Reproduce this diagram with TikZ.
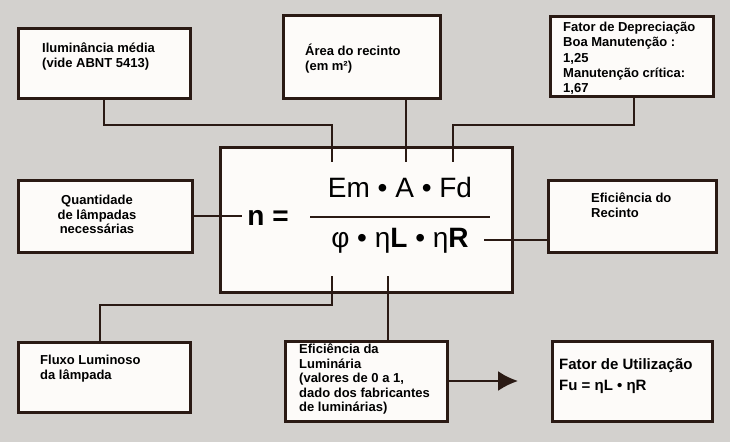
\documentclass[tikz,border=0pt]{standalone}
\usepackage{fontspec}
\usetikzlibrary{arrows.meta}
\setmainfont{Liberation Sans}
\definecolor{bg}{HTML}{D3D1CE}
\definecolor{ln}{HTML}{2A1A14}
\definecolor{bx}{HTML}{FDFBF9}
\begin{document}
\begin{tikzpicture}[x=1pt,y=-1pt,
 box/.style={draw=ln,line width=3pt,fill=bx},
 con/.style={draw=ln,line width=2.2pt},
 lbl/.style={font=\bfseries\fontsize{13}{14.5}\selectfont,align=left,anchor=north west,inner sep=0pt},
 eq/.style={font=\fontsize{28}{30}\selectfont,inner sep=0pt}]
\fill[bg] (0,0) rectangle (730,442);
\useasboundingbox (0,0) rectangle (730,442);
% boxes
\draw[box] (220,147) rectangle (512,292);
\draw[box] (18,28) rectangle (190,98);
\draw[box] (283,15) rectangle (440,98);
\draw[box] (550,16) rectangle (713,96);
\draw[box] (18,180) rectangle (192,252);
\draw[box] (548,180) rectangle (716,252);
\draw[box] (18,342) rectangle (190,412);
\draw[box] (285,341) rectangle (447,421);
\draw[box] (552,341) rectangle (712,421);
% formula
\node[eq] (n) at (268,218) {\bfseries n =};
\node[eq] (num) at (400,187) {Em • A • Fd};
\node[eq] (den) at (400,241) {φ • η\textbf{L} • η\textbf{R}};
\draw[ln,line width=2.2pt] (310,217) -- (490,217);
% labels
\node[lbl] (t1) at (42,43) {Iluminância média\\(vide ABNT 5413)};
\node[lbl] (t2) at (305,44) {Área do recinto\\(em m²)};
\node[lbl,font=\bfseries\fontsize{13}{15.2}\selectfont] (t3) at (563,22) {Fator de Depreciação\\Boa Manutenção :\\1,25\\Manutenção crítica:\\1,67};
\node[lbl,align=center,anchor=north] (t4) at (97,195) {Quantidade\\de lâmpadas\\necessárias};
\node[lbl] (t5) at (591,193) {Eficiência do\\Recinto};
\node[lbl] (t6) at (40,355) {Fluxo Luminoso\\da lâmpada};
\node[lbl] (t7) at (299,344) {Eficiência da\\Luminária\\(valores de 0 a 1,\\dado dos fabricantes\\de luminárias)};
\node[lbl,font=\bfseries\fontsize{15}{21}\selectfont] (t8) at (559,358) {Fator de Utilização\\Fu = η\textbf{L} • η\textbf{R}};
% connectors
\coordinate (c1) at (332,162); \coordinate (c2) at (406,162); \coordinate (c3) at (453,162);
\coordinate (c4) at (332,276); \coordinate (c5) at (388,276);
\draw[con] (104,98) -- (104,125) -- (332,125) -- (c1);
\draw[con] (406,98) -- (c2);
\draw[con] (634,96) -- (634,125) -- (453,125) -- (c3);
\draw[con] (c4) -- (332,305) -- (100,305) -- (100,342);
\draw[con] (c5) -- (388,341);
\draw[con,-{Latex[length=20pt,width=20pt]}] (447,381) -- (518,381);
\draw[con] (192,216) -- (242,216);
\draw[con] (548,240) -- (484,240);
\end{tikzpicture}
\end{document}
